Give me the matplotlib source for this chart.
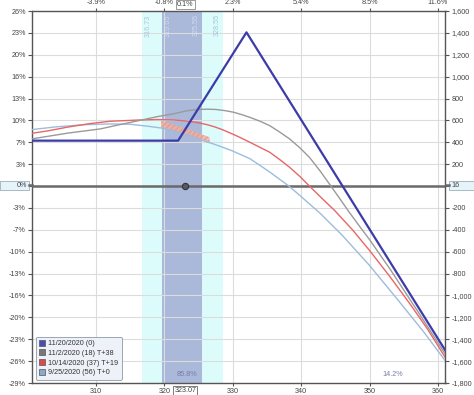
import matplotlib
matplotlib.use("Agg")
import matplotlib.pyplot as plt
from matplotlib.patches import Rectangle
from matplotlib.lines import Line2D

plt.rcParams['font.family'] = ['Liberation Sans', 'DejaVu Sans']

# ---- data ----
x_ticks = [310, 320, 330, 340, 350, 360]
top_labels = ["-3.9%", "-0.8%", "2.3%", "5.4%", "8.5%", "11.6%"]
y_ticks = [1600, 1400, 1200, 1000, 800, 600, 400, 200, 0, -200, -400, -600,
           -800, -1000, -1200, -1400, -1600, -1800]
right_labels = ["1,600", "1,400", "1,200", "1,000", "800", "600", "400", "200", "",
                "-200", "-400", "-600", "-800", "-1,000", "-1,200", "-1,400", "-1,600", "-1,800"]
left_labels = ["26%", "23%", "20%", "16%", "13%", "10%", "7%", "3%", "",
               "-3%", "-7%", "-10%", "-13%", "-16%", "-20%", "-23%", "-26%", "-29%"]

current_price = 323.07
current_pct = "0.1%"
current_pnl = "16"
sd1 = (316.73, 328.55)
sd_half = (319.65, 325.55)
prob_left = "85.8%"
prob_right = "14.2%"

series_names = ["11/20/2020 (0)", "11/2/2020 (18) T+38", "10/14/2020 (37) T+19", "9/25/2020 (56) T+0"]

exp_price = [300.6, 322.0, 332.0, 361.1]
exp_pnl = [415, 415, 1405, -1505]

t38_price = [300.6, 303, 306, 310.6, 313, 316.4, 319, 321.3, 322.5, 323.5, 324.8, 326.2,
             327.5, 328.8, 330.1, 331.3, 332.5, 334, 335.4, 336.8, 338.3, 339.8, 341.2,
             342.8, 344.4, 345.7, 347, 348.5, 350, 353, 357.3, 361.1]
t38_pnl = [431, 455, 485, 522, 555, 600, 635, 660, 677, 690, 699, 703,
           700, 690, 675, 653, 628, 592, 552, 496, 431, 350, 263,
           135, -5, -120, -237, -365, -490, -760, -1170, -1540]

t19_price = [300.6, 303, 305.7, 309, 312, 316.4, 319, 321.3, 323, 324.5, 326.2, 327.4,
             328.5, 329.8, 331, 332.5, 333.9, 335.4, 336.8, 338.3, 339.8, 341.2, 343,
             344.9, 347.5, 350, 353, 356, 358.5, 361.1]
t19_pnl = [482, 505, 537, 570, 592, 604, 608, 604, 596, 584, 562, 540,
           515, 480, 446, 400, 356, 309, 245, 172, 88, 0, -110,
           -224, -400, -589, -830, -1085, -1310, -1570]

t0_price = [300.6, 304, 308, 312, 315, 316.4, 317.8, 319.8, 321.3, 322.6, 324, 325.1,
            326.2, 327.3, 328.5, 329.8, 331, 332.5, 333.9, 335.4, 336.8, 338.2, 339.7,
            341.2, 342.7, 346, 350, 354, 358, 361.1]
t0_pnl = [516, 540, 560, 568, 565, 555, 545, 528, 505, 482, 455, 430,
          405, 382, 355, 325, 292, 250, 192, 128, 64, 0, -80,
          -163, -245, -450, -726, -1030, -1340, -1600]

band_price = [319.5, 321.0, 323.0, 325.0, 326.6]
band_pnl = [565, 540, 500, 455, 418]

# ---- figure ----
W, H = 474, 395
fig = plt.figure(figsize=(W / 100, H / 100), dpi=100)
ax = fig.add_axes([32 / W, (H - 383) / H, (445.5 - 32) / W, (383 - 11) / H])
axl = ax.twinx()
axt = ax.twiny()

XMIN, XMAX = 300.64, 361.1
YMIN, YMAX = -1800, 1600
ax.set_xlim(XMIN, XMAX)
ax.set_ylim(YMIN, YMAX)

# bands
ax.axvspan(sd1[0], sd1[1], color='#dcfcfc', zorder=0, lw=0)
ax.axvspan(sd_half[0], sd_half[1], color='#aab9da', zorder=0.5, lw=0)

# grid
for xt in x_ticks:
    ax.axvline(xt, color='#dcdcdc', lw=0.8, zorder=1)
for yt in y_ticks:
    ax.axhline(yt, color='#dcdcdc', lw=0.8, zorder=1)

# zero line
ax.axhline(0, color='#6a6a6a', lw=1.8, zorder=3)

# curves
c_exp, c_38, c_19, c_0 = '#3c3ca8', '#9a9a9a', '#e86666', '#9dbcdc'
ax.fill_between(band_price, [v + 28 for v in band_pnl], [v - 28 for v in band_pnl],
                facecolor='#f3b0a0', edgecolor='#e89888', hatch='//////', lw=0, alpha=0.8, zorder=2)
ax.plot(t0_price, t0_pnl, color=c_0, lw=1.0, zorder=4)
ax.plot(t19_price, t19_pnl, color=c_19, lw=1.0, zorder=4)
ax.plot(t38_price, t38_pnl, color=c_38, lw=1.0, zorder=4)
ax.plot(exp_price, exp_pnl, color=c_exp, lw=1.6, zorder=5)

# current price marker
ax.plot([current_price], [0], marker='o', ms=4.5, mfc='#555a66', mec='#333333', mew=0.8, zorder=6)

# band labels
lab_kw = dict(rotation=90, fontsize=5.2, va='top', zorder=2)
ax.text(sd1[0] + 0.35, 1570, f"{sd1[0]:.2f}", ha='left', color='#a6c8d8', **lab_kw)
ax.text(sd_half[0] + 0.35, 1570, f"{sd_half[0]:.2f}", ha='left', color='#d0dcf2', **lab_kw)
ax.text(sd_half[1] - 0.35, 1570, f"{sd_half[1]:.2f}", ha='right', color='#d0dcf2', **lab_kw)
ax.text(sd1[1] - 0.35, 1570, f"{sd1[1]:.2f}", ha='right', color='#a6c8d8', **lab_kw)

# probability labels
ax.text(323.3, -1720, prob_left, fontsize=5.2, color='#7a7aaa', ha='center', va='center', zorder=6)
ax.text(353.4, -1720, prob_right, fontsize=5.2, color='#7a7aaa', ha='center', va='center', zorder=6)

# spines
for s in ax.spines.values():
    s.set_color('#555555')
    s.set_linewidth(1.0)

# right axis ($)
ax.yaxis.tick_right()
ax.set_yticks(y_ticks)
ax.set_yticklabels(right_labels)
ax.tick_params(axis='y', labelsize=5.2, labelcolor='#444444', color='#555555', length=3, width=0.8, pad=1.5)

# bottom axis
ax.xaxis.tick_bottom()
ax.set_xticks(x_ticks)
ax.set_xticklabels([str(v) for v in x_ticks])
ax.tick_params(axis='x', labelsize=5.2, labelcolor='#444444', color='#555555', length=2, width=0.8, pad=1.5)

# left axis (%)
axl.set_ylim(YMIN, YMAX)
axl.yaxis.tick_left()
axl.set_yticks(y_ticks)
axl.set_yticklabels(left_labels)
axl.tick_params(axis='y', labelsize=5.2, labelcolor='#444444', color='#555555', length=3, width=0.8, pad=1.5)
for s in axl.spines.values():
    s.set_visible(False)

# top axis
axt.set_xlim(XMIN, XMAX)
axt.xaxis.tick_top()
axt.set_xticks(x_ticks)
axt.set_xticklabels(top_labels)
axt.tick_params(axis='x', labelsize=5.2, labelcolor='#444444', color='#555555', length=2, width=0.8, pad=1.5)
for s in axt.spines.values():
    s.set_visible(False)

# boxed current markers
ax.text(current_price, 1.008, current_pct, transform=ax.get_xaxis_transform(), fontsize=5.2,
        color='#444444', ha='center', va='bottom',
        bbox=dict(boxstyle='square,pad=0.15', fc='white', ec='#888888', lw=0.6), zorder=10, clip_on=False)
ax.text(current_price, -0.012, f"{current_price:.2f}", transform=ax.get_xaxis_transform(), fontsize=5.2,
        color='#444444', ha='center', va='top',
        bbox=dict(boxstyle='square,pad=0.15', fc='white', ec='#666666', lw=0.6), zorder=10, clip_on=False)

# zero boxes
fig.patches.append(Rectangle((0, (H - 190) / H), 29 / W, 9 / H, transform=fig.transFigure,
                             fc='#e6f4fa', ec='#9ab0c0', lw=0.6))
fig.text(27 / W, (H - 185.5) / H, "0%", fontsize=5.2, color='#444444', ha='right', va='center')
fig.patches.append(Rectangle((449 / W, (H - 190) / H), 30 / W, 9 / H, transform=fig.transFigure,
                             fc='#e6f4fa', ec='#9ab0c0', lw=0.6))
fig.text(451 / W, (H - 185.5) / H, current_pnl, fontsize=5.2, color='#444444', ha='left', va='center')
fig.lines.append(Line2D([29 / W, 32 / W], [(H - 185.5) / H] * 2, transform=fig.transFigure,
                        color='#6a6a6a', lw=1.8))
fig.lines.append(Line2D([445.5 / W, 449 / W], [(H - 185.5) / H] * 2, transform=fig.transFigure,
                        color='#6a6a6a', lw=1.8))

# legend
handles = [Line2D([], [], marker='s', ls='none', ms=4, mfc=c, mec='#555555', mew=0.5)
           for c in ['#4a4ab8', '#777777', '#e04848', '#88aacc']]
leg = ax.legend(handles, series_names, loc='lower left', bbox_to_anchor=(0.005, 0.005),
                fontsize=5.2, frameon=True, fancybox=True, handlelength=0.8, handletextpad=0.4,
                labelspacing=0.35, borderpad=0.5, borderaxespad=0.2)
leg.get_frame().set_facecolor('#eef2f8')
leg.get_frame().set_edgecolor('#8a9aaa')
leg.get_frame().set_linewidth(0.6)
leg.get_frame().set_alpha(1)
for t in leg.get_texts():
    t.set_color('#333333')
leg.set_zorder(20)

fig.savefig("out.png", dpi=100)
